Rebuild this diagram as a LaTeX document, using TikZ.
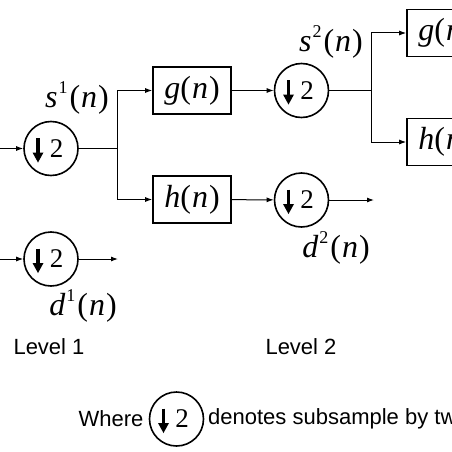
\documentclass[tikz,border=0pt]{standalone}
\usepackage{fontspec}
\setmainfont{Liberation Serif}
\newfontfamily\timesf{Liberation Serif}
\newfontfamily\arialf{Liberation Sans}
\usetikzlibrary{arrows.meta}
\newcommand{\fn}[2]{{\timesf\itshape #1}{\timesf(}\kern1pt{\timesf\itshape n}\kern1pt{\timesf)}}
\newcommand{\fs}[3]{{\timesf\itshape #1}\kern1pt\raisebox{0.45em}{\timesf\fontsize{18}{18}\selectfont #2}\kern2pt{\timesf(}\kern1pt{\timesf\itshape n}\kern1pt{\timesf)}}
\begin{document}
\begin{tikzpicture}[x=1pt,y=-1pt,
  conn/.style={line width=1pt,-{Latex[length=7pt,width=5pt]}},
  plain/.style={line width=1pt},
  fbox/.style={draw,line width=1.6pt,minimum width=78pt,minimum height=47pt,inner sep=0pt,font=\timesf\fontsize{32}{32}\selectfont},
  dsamp/.style={draw,circle,line width=1.6pt,minimum size=54pt,inner sep=0pt,
     font=\timesf\fontsize{27}{27}\selectfont,
     path picture={
       \draw[line width=3.6pt] ([xshift=-13pt,yshift=10.5pt]path picture bounding box.center) -- ([xshift=-13pt,yshift=-6pt]path picture bounding box.center);
       \fill ([xshift=-18.5pt,yshift=-4pt]path picture bounding box.center) -- ([xshift=-7.5pt,yshift=-4pt]path picture bounding box.center) -- ([xshift=-13pt,yshift=-14pt]path picture bounding box.center) -- cycle;
     }},
  lab/.style={font=\timesf\fontsize{32}{32}\selectfont,inner sep=0pt},
  txt/.style={font=\arialf\fontsize{22}{22}\selectfont,inner sep=0pt}
]
\useasboundingbox[fill=white] (0,0) rectangle (452,452);
% nodes
\node[dsamp] (c1) at (51,148.5) {\hspace*{11pt}2};
\node[dsamp] (c3) at (51,259) {\hspace*{11pt}2};
\node[fbox] (g1) at (192,90.5) {\fn{g}{}};
\node[fbox] (h1) at (192,199.5) {\fn{h}{}};
\node[dsamp] (c2) at (301.5,90.5) {\hspace*{11pt}2};
\node[dsamp] (c4) at (301.5,200) {\hspace*{11pt}2};
\node[fbox] (g2) at (446,33) {\fn{g}{}};
\node[fbox] (h2) at (446,142) {\fn{h}{}};
\node[dsamp] (cw) at (176.5,419) {\hspace*{11pt}2};
% coordinates
\coordinate (in1) at (0,148.5);
\coordinate (in3) at (0,259);
\coordinate (j1) at (117.5,148.5);
\coordinate (j2) at (371,90.5);
\coordinate (o3) at (118,259);
\coordinate (o4) at (374,200);
% connectors
\draw[conn] (in1) -- (c1);
\draw[conn] (in3) -- (c3);
\draw[plain] (c1) -- (j1);
\draw[conn] (j1) |- (g1);
\draw[conn] (j1) |- (h1);
\draw[conn] (g1) -- (c2);
\draw[conn] (h1) -- (c4);
\draw[plain] (c2) -- (j2);
\draw[conn] (j2) |- (g2);
\draw[conn] (j2) |- (h2);
\draw[conn] (c3) -- (o3);
\draw[conn] (c4) -- (o4);
% labels
\node[lab] (s1) at (77,98) {\fs{s}{1}{}};
\node[lab] (s2) at (331,42) {\fs{s}{2}{}};
\node[lab] (d1) at (83,306) {\fs{d}{1}{}};
\node[lab] (d2) at (336,248) {\fs{d}{2}{}};
\node[txt] (l1) at (49,347) {Level 1};
\node[txt] (l2) at (301,347) {Level 2};
\node[txt] (wh) at (111,419) {Where};
\node[txt,anchor=west] (dn) at (208,419) {denotes subsample by two};
\end{tikzpicture}
\end{document}
